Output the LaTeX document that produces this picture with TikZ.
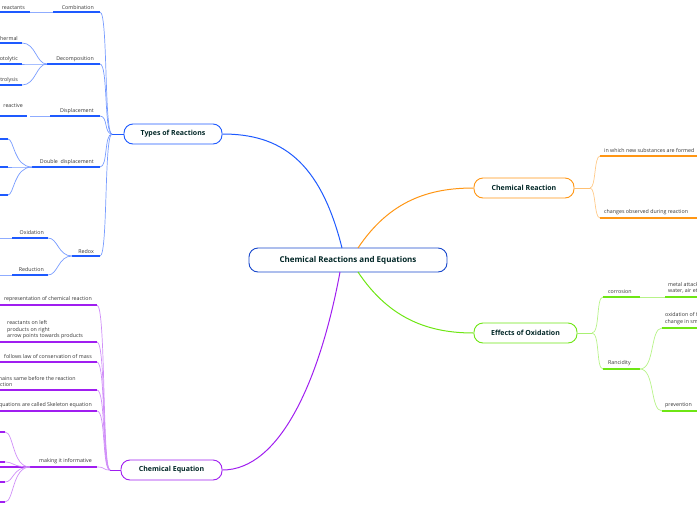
\documentclass[tikz,border=0pt]{standalone}
\usepackage{fontspec}
\setmainfont{Open Sans}
\begin{document}
\begin{tikzpicture}[x=1pt,y=-1pt,
  lbl/.style={font=\fontsize{5.3}{6.5}\selectfont,text=black!80,inner sep=0pt},
  main/.style={draw,rounded corners=9pt,line width=0.9pt,font=\bfseries\fontsize{7}{8}\selectfont,text=black!70!teal,minimum height=20pt,inner sep=3pt,fill=white},
  ul/.style={line width=1.3pt},
  cn/.style={line width=0.7pt}]
\useasboundingbox (0,0) rectangle (697,520);
\clip (0,0) rectangle (697,520);
\definecolor{cb}{RGB}{30,90,255}
\definecolor{cp}{RGB}{160,30,240}
\definecolor{co}{RGB}{255,150,20}
\definecolor{cg}{RGB}{110,230,20}
\node[main,draw=cb!80!black,minimum width=198pt,minimum height=24pt,font=\bfseries\fontsize{8}{9}\selectfont] (c) at (348,260) {Chemical Reactions and Equations};
\node[main,draw=cb,minimum width=98pt] (t) at (173,134) {Types of Reactions};
\node[main,draw=cp,minimum width=101pt] (e) at (171.5,470) {Chemical Equation};
\node[main,draw=co,minimum width=100pt] (r) at (524,188) {Chemical Reaction};
\node[main,draw=cg,minimum width=103pt] (o) at (525.5,333) {Effects of Oxidation};
\draw[cb,line width=1pt] (342,248) .. controls (320,160) and (280,134) .. (t.east);
\draw[cp,line width=1pt] (340,272) .. controls (320,380) and (280,470) .. (e.east);
\draw[co,line width=1pt] (358,248) .. controls (390,200) and (430,188) .. (r.west);
\draw[cg,line width=1pt] (358,272) .. controls (390,320) and (430,333) .. (o.west);
% ---- blue
\coordinate (tj) at (112,134);
\draw[cb,line width=1pt] (t.west) -- (tj);
\foreach \y/\xs/\txt in {12/53/Combination,64/47/Decomposition,116/50/Displacement,167/32/Double\ \ displacement,256/72/Redox}{
  \draw[cb!60,cn] (tj) .. controls (104,134) and (108,\y) .. (100,\y);
  \draw[cb,ul] (\xs,\y) -- (100,\y);
  \node[lbl,anchor=south east] at (94,\y-2.5) {\txt};
}
\draw[cb!50,cn] (30,12) -- (53,12); \draw[cb,ul] (-1,12) -- (30,12);
\node[lbl,anchor=south east] at (25,9.5) {reactants};
\foreach \y/\txt in {43/thermal,64/photolytic,85/electrolysis}{
  \draw[cb!60,cn] (47,64) .. controls (36,64) and (36,\y) .. (22,\y);
  \draw[cb,ul] (-1,\y) -- (22,\y);
  \node[lbl,anchor=south east] at (18,\y-2.5) {\txt};}
\draw[cb!50,cn] (30,116) -- (50,116); \draw[cb,ul] (-1,116) -- (27,116);
\node[lbl,anchor=south east] at (23,108) {reactive};
\foreach \y in {139,167,195}{
  \draw[cb!60,cn] (32,167) .. controls (14,167) and (14,\y) .. (8,\y);
  \draw[cb,ul] (-1,\y) -- (8,\y);}
\foreach \y/\txt in {238/Oxidation,275/Reduction}{
  \draw[cb!60,cn] (72,256) .. controls (58,256) and (58,\y) .. (48,\y);
  \draw[cb,ul] (12,\y) -- (48,\y);
  \draw[cb!50,cn] (-1,\y) -- (12,\y);
  \node[lbl,anchor=south east] at (44,\y-3.5) {\txt};}
% ---- purple
\coordinate (ej) at (110,470);
\draw[cp,line width=1pt] (e.west) -- (ej);
\foreach \y in {305,342,362,390,411,467}{
  \draw[cp!50,cn] (ej) .. controls (102,470) and (106,\y) .. (97,\y);
  \draw[cp,ul] (-1,\y) -- (97,\y);}
\node[lbl,anchor=south east] at (92,302) {representation of chemical reaction};
\node[lbl,anchor=south west,align=left] at (7,339) {reactants on left\\products on right\\arrow points towards products};
\node[lbl,anchor=south east] at (92,359) {follows law of conservation of mass};
\node[lbl,anchor=south west,align=left] at (-8,387) {remains same before the reaction\\reaction};
\node[lbl,anchor=south east] at (92,408) {Equations are called Skeleton equation};
\node[lbl,anchor=south east] at (92,464) {making it informative};
\foreach \y in {432,462,482,502}{
  \draw[cp!50,cn] (30,467) .. controls (12,467) and (14,\y) .. (5,\y);
  \draw[cp,ul] (-1,\y) -- (5,\y);}
% ---- orange
\coordinate (rj) at (590,188);
\draw[co!60,cn] (r.east) -- (rj);
\foreach \y/\txt in {156/in which new substances are formed,218/changes observed during reaction}{
  \draw[co!50,cn] (rj) .. controls (596,188) and (594,\y) .. (600,\y);
  \draw[co,ul] (600,\y) -- (700,\y);
  \node[lbl,anchor=south west] at (604,\y-3.5) {\txt};}
% ---- green
\coordinate (gj) at (592,333);
\draw[cg!60,cn] (o.east) -- (gj);
\foreach \y/\txt in {297/corrosion,369/Rancidity}{
  \draw[cg!50,cn] (gj) .. controls (600,333) and (596,\y) .. (603,\y);
  \draw[cg,ul] (603,\y) -- (640,\y);
  \node[lbl,anchor=south west] at (608,\y-3.5) {\txt};}
\draw[cg!50,cn] (640,297) -- (665,297); \draw[cg,ul] (665,297) -- (700,297);
\node[lbl,anchor=south west,align=left] at (668,293.5) {metal attacked by\\water, air etc.};
\foreach \y/\txt in {328/{oxidation of fats\\change in smell},411/prevention}{
  \draw[cg!50,cn] (640,369) .. controls (655,369) and (650,\y) .. (662,\y);
  \draw[cg,ul] (662,\y) -- (700,\y);
  \node[lbl,anchor=south west,align=left] at (665,\y-3.5) {\txt};}
\end{tikzpicture}
\end{document}
